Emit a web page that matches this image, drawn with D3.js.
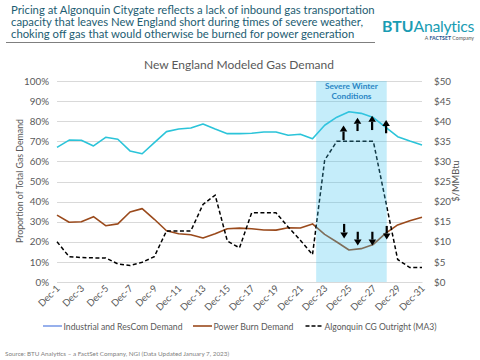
<!DOCTYPE html>
<html><head><meta charset="utf-8">
<script src="https://cdn.jsdelivr.net/npm/d3@7"></script>
<style>body{margin:0;background:#fff}svg{display:block}text{font-family:Lato,"Open Sans",sans-serif}</style>
</head><body><svg id="c" width="480" height="360"></svg>
<script>
const days = ["Dec-1","Dec-2","Dec-3","Dec-4","Dec-5","Dec-6","Dec-7","Dec-8","Dec-9","Dec-10","Dec-11","Dec-12","Dec-13","Dec-14","Dec-15","Dec-16","Dec-17","Dec-18","Dec-19","Dec-20","Dec-21","Dec-22","Dec-23","Dec-24","Dec-25","Dec-26","Dec-27","Dec-28","Dec-29","Dec-30","Dec-31"];
const industrial = [0.67,0.706,0.705,0.677,0.72,0.71,0.652,0.638,0.693,0.748,0.761,0.766,0.786,0.761,0.738,0.738,0.74,0.746,0.746,0.73,0.735,0.713,0.78,0.82,0.847,0.839,0.818,0.77,0.723,0.701,0.682];
const powerBurn = [0.333,0.297,0.30,0.325,0.28,0.289,0.348,0.365,0.312,0.255,0.24,0.235,0.219,0.24,0.265,0.268,0.265,0.259,0.258,0.27,0.269,0.289,0.237,0.199,0.159,0.166,0.187,0.242,0.284,0.305,0.322];
const algonquin = [10.0,6.3,6.1,6.0,6.0,4.5,4.1,4.9,6.3,12.7,12.7,12.7,19.3,21.6,10.2,8.5,17.2,17.2,17.2,13.7,10.4,6.8,30.3,35,35,35,35,20.3,5.6,3.6,3.6];
const leftTicks = [0,0.1,0.2,0.3,0.4,0.5,0.6,0.7,0.8,0.9,1.0];
const rightTicks = [0,5,10,15,20,25,30,35,40,45,50];
const tickDays = ["Dec-1","Dec-3","Dec-5","Dec-7","Dec-9","Dec-11","Dec-13","Dec-15","Dec-17","Dec-19","Dec-21","Dec-23","Dec-25","Dec-27","Dec-29","Dec-31"];
const titleLines = ["Pricing at Algonquin Citygate reflects a lack of inbound gas transportation","capacity that leaves New England short during times of severe weather,","choking off gas that would otherwise be burned for power generation"];
const severeSpan = [21.3, 27.1]; // in day index
const upArrows = [[23.55,0.706,0.778],[24.7,0.751,0.817],[25.9,0.756,0.827],[27.05,0.74,0.806]];
const downArrows = [[23.6,0.289,0.217],[24.72,0.25,0.181],[25.92,0.25,0.181],[27.1,0.279,0.212]];
const legendItems = [{name:"Industrial and ResCom Demand",key:"ind"},{name:"Power Burn Demand",key:"pow"},{name:"Algonquin CG Outright (MA3)",key:"alg"}];

const svg = d3.select("#c");
const L=57,R=422,T=81,B=282;
const xi = d3.scaleLinear().domain([0,days.length-1]).range([L,R]);
const x = d3.scalePoint().domain(days).range([L,R]);
const yL = d3.scaleLinear().domain([0,1]).range([B,T]);
const yR = d3.scaleLinear().domain([0,50]).range([B,T]);
const grey="#595959", grid="#d9d9d9";
const cInd="#2bc4d9", cPow="#9a4a1c";

// header
const hd = svg.append("g");
titleLines.forEach((t,i)=>hd.append("text").attr("x",11).attr("y",13.5+i*12).attr("font-size",11.3).attr("fill","#1d5d72").text(t));
hd.append("line").attr("x1",6).attr("x2",375).attr("y1",42.5).attr("y2",42.5).attr("stroke","#7f7f7f").attr("stroke-width",1);
const logo = hd.append("text").attr("x",382).attr("y",32).attr("font-size",16).attr("font-family","Roboto, sans-serif").attr("fill","#1a9cb3")
  .attr("textLength",92).attr("lengthAdjust","spacingAndGlyphs");
logo.append("tspan").attr("font-weight","bold").text("BTU");
logo.append("tspan").attr("font-weight","normal").attr("letter-spacing",-0.3).text("Analytics");
const fs = hd.append("text").attr("x",474).attr("y",39.5).attr("text-anchor","end").attr("font-size",5.2).attr("font-family","Roboto, sans-serif").attr("fill","#555");
fs.append("tspan").text("A ");
fs.append("tspan").attr("font-weight","bold").attr("fill","#1a4f8c").text("FACTSET");
fs.append("tspan").text(" Company");

// chart title
svg.append("text").attr("x",239).attr("y",68.5).attr("text-anchor","middle").attr("font-size",12).attr("fill",grey).text("New England Modeled Gas Demand");

// gridlines
svg.append("g").selectAll("line").data(leftTicks).join("line")
  .attr("x1",L).attr("x2",R).attr("y1",d=>Math.round(yL(d))+0.5).attr("y2",d=>Math.round(yL(d))+0.5)
  .attr("stroke",grid).attr("stroke-width",1);

// left axis
const ga = svg.append("g").attr("transform",`translate(${L-8},0)`)
  .call(d3.axisLeft(yL).tickValues(leftTicks).tickFormat(d3.format(".0%")).tickSize(0).tickPadding(0));
ga.select(".domain").remove();
ga.selectAll("text").attr("font-size",9.8).attr("fill",grey).attr("font-family","Lato, sans-serif");
const gr = svg.append("g").attr("transform",`translate(${R+12},0)`)
  .call(d3.axisRight(yR).tickValues(rightTicks).tickFormat(d=>"$"+d).tickSize(0).tickPadding(0));
gr.select(".domain").remove();
gr.selectAll("text").attr("font-size",9.8).attr("fill",grey).attr("font-family","Lato, sans-serif");

// x axis
const gx = svg.append("g").attr("transform",`translate(0,${B})`)
  .call(d3.axisBottom(x).tickValues(tickDays).tickSize(0).tickPadding(0));
gx.select(".domain").attr("stroke",grid);
gx.selectAll("text").attr("font-size",9.6).attr("fill",grey).attr("font-family","Lato, sans-serif")
  .attr("text-anchor","end").attr("dy",0).attr("transform","translate(3,7) rotate(-45)");

// axis titles
svg.append("text").attr("transform",`translate(23,181) rotate(-90)`).attr("text-anchor","middle").attr("font-size",9.6).attr("fill",grey)
  .attr("textLength",124).attr("lengthAdjust","spacingAndGlyphs").text("Proportion of Total Gas Demand");
svg.append("text").attr("transform",`translate(459,181) rotate(-90)`).attr("text-anchor","middle").attr("font-size",9.4).attr("fill",grey).text("$/MMBtu");

// lines
const lineL = d3.line().x((d,i)=>x(days[i])).y(d=>yL(d));
const lineR = d3.line().x((d,i)=>x(days[i])).y(d=>yR(d));
svg.append("path").datum(industrial).attr("d",lineL).attr("fill","none").attr("stroke",cInd).attr("stroke-width",1.6).attr("stroke-linejoin","round");
svg.append("path").datum(powerBurn).attr("d",lineL).attr("fill","none").attr("stroke",cPow).attr("stroke-width",1.6).attr("stroke-linejoin","round");
svg.append("path").datum(algonquin).attr("d",lineR).attr("fill","none").attr("stroke","#000").attr("stroke-width",1.5).attr("stroke-dasharray","4,2.5");

// severe shading (overlay)
svg.append("rect").attr("x",xi(severeSpan[0])).attr("width",xi(severeSpan[1])-xi(severeSpan[0]))
  .attr("y",T).attr("height",B-T).attr("fill","#3fc2ee").attr("opacity",0.3);
const st = svg.append("text").attr("text-anchor","middle").attr("font-size",8.3).attr("font-weight","bold").attr("fill","#2a86c4");
st.append("tspan").attr("x",xi((severeSpan[0]+severeSpan[1])/2)).attr("y",89).text("Severe Winter");
st.append("tspan").attr("x",xi((severeSpan[0]+severeSpan[1])/2)).attr("y",99).text("Conditions");

// arrows
function arrow(g,xv,y0,y1){
  const px=xi(xv), a=yL(y0), b=yL(y1), dir=Math.sign(b-a), hl=6, hw=3.8;
  g.append("line").attr("x1",px).attr("x2",px).attr("y1",a).attr("y2",b-dir*hl).attr("stroke","#000").attr("stroke-width",2.2);
  g.append("path").attr("d",`M${px-hw},${b-dir*hl}L${px+hw},${b-dir*hl}L${px},${b}Z`).attr("fill","#000");
}
const ag=svg.append("g");
upArrows.forEach(d=>arrow(ag,d[0],d[1],d[2]));
downArrows.forEach(d=>arrow(ag,d[0],d[1],d[2]));

// legend
const lg = svg.append("g");
const legX = [[43,62,63.5,119],[193,212,213.5,80],[305.5,322.5,324.5,112]];
legendItems.forEach((it,i)=>{
  const [a,b,t,w]=legX[i];
  const ln = lg.append("line").attr("x1",a).attr("x2",b).attr("y1",326).attr("y2",326).attr("stroke-width",1.6);
  if(it.key==="ind") ln.attr("stroke","#7d9ce8");
  if(it.key==="pow") ln.attr("stroke",cPow);
  if(it.key==="alg") ln.attr("stroke","#000").attr("stroke-dasharray","4,2");
  lg.append("text").attr("x",t).attr("y",329.5).attr("font-size",9.4).attr("fill",grey)
    .attr("textLength",w).attr("lengthAdjust","spacingAndGlyphs").text(it.name);
});

// source
svg.append("text").attr("x",5).attr("y",356).attr("font-size",6.3).attr("fill","#7f7f7f").text("Source: BTU Analytics \u2013 a FactSet Company, NGI (Data Updated January 7, 2023)");
</script></body></html>
